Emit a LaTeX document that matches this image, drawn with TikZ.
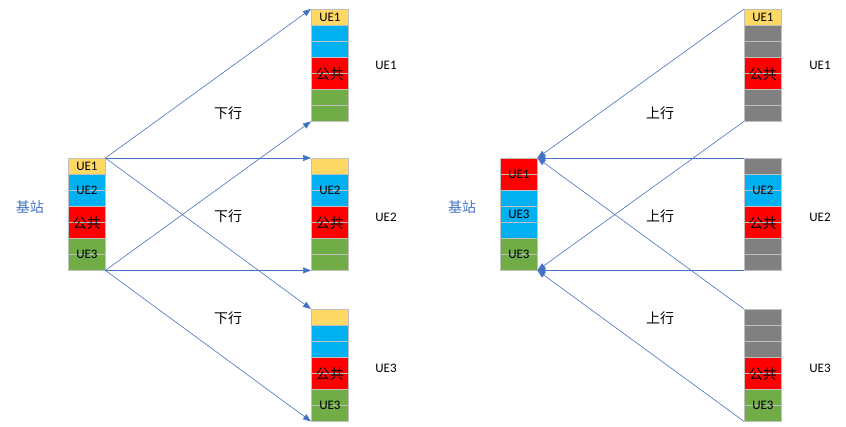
\documentclass[tikz,border=0pt]{standalone}
\usepackage{fontspec}
\setmainfont{Carlito}
\newfontfamily\cjk{Noto Sans CJK SC}
\usetikzlibrary{arrows.meta}
\definecolor{cy}{HTML}{FFD966}
\definecolor{cb}{HTML}{00B0F0}
\definecolor{cr}{HTML}{FF0000}
\definecolor{cg}{HTML}{70AD47}
\definecolor{ck}{HTML}{808080}
\definecolor{ln}{HTML}{4472C4}
\tikzset{
  cell/.style={draw=black!25,line width=0.8pt,minimum width=37pt,minimum height=16pt,inner sep=0pt,anchor=north west},
  frame/.style={minimum width=37pt,minimum height=112pt,inner sep=0pt,anchor=north west},
  lab/.style={font=\fontsize{13}{13}\selectfont},
  clab/.style={font=\cjk\fontsize{14}{14}\selectfont},
  conn/.style={draw=ln,line width=0.6pt,-{Triangle[length=8pt,width=6pt]}},
}
\newcommand{\mystack}[4]{% name, x, y, colours
  \node[frame] (#1) at (#2,#3) {};
  \foreach \c [count=\i from 0] in {#4} {
    \node[cell,fill=\c] (#1-\i) at (#2,#3+16*\i) {};
  }
}
\begin{document}
\begin{tikzpicture}[x=1pt,y=-1pt]
\useasboundingbox (0,0) rectangle (846,427);
% left
\mystack{bsL}{68}{158}{cy,cb,cb,cr,cr,cg,cg}
\node[lab] at (bsL-0) {UE1};
\node[lab] at (bsL-1.south) {UE2};
\node[clab] at (bsL-3.south) {公共};
\node[lab] at (bsL-5.south) {UE3};
\mystack{dA}{311}{9}{cy,cb,cb,cr,cr,cg,cg}
\node[lab] at (dA-0) {UE1};
\node[clab] at (dA-3.south) {公共};
\mystack{dB}{311}{158}{cy,cb,cb,cr,cr,cg,cg}
\node[lab] at (dB-1.south) {UE2};
\node[clab] at (dB-3.south) {公共};
\mystack{dC}{311}{309}{cy,cb,cb,cr,cr,cg,cg}
\node[clab] at (dC-3.south) {公共};
\node[lab] at (dC-5.south) {UE3};
\node[clab,text=ln] (bsLl) at (30,207) {基站};
\node[lab] (tA) at (386,65) {UE1};
\node[lab] (tB) at (386,217) {UE2};
\node[lab] (tC) at (386,368) {UE3};
\node[clab] (dl1) at (228,113) {下行};
\node[clab] (dl2) at (228,216) {下行};
\node[clab] (dl3) at (228,318) {下行};
\draw[conn] (bsL.north east) -- (dA.north west);
\draw[conn] (bsL.north east) -- (dB.north west);
\draw[conn] (bsL.north east) -- (dC.north west);
\draw[conn] (bsL.south east) -- (dA.south west);
\draw[conn] (bsL.south east) -- (dB.south west);
\draw[conn] (bsL.south east) -- (dC.south west);
% right
\mystack{bsR}{500}{158}{cr,cr,cb,cb,cb,cg,cg}
\node[lab] at (bsR-0.south) {UE1};
\node[lab] at (bsR-3) {UE3};
\node[lab] at (bsR-5.south) {UE3};
\mystack{uA}{744}{9}{cy,ck,ck,cr,cr,ck,ck}
\node[lab] at (uA-0) {UE1};
\node[clab] at (uA-3.south) {公共};
\mystack{uB}{744}{158}{ck,cb,cb,cr,cr,ck,ck}
\node[lab] at (uB-1.south) {UE2};
\node[clab] at (uB-3.south) {公共};
\mystack{uC}{744}{309}{ck,ck,ck,cr,cr,cg,cg}
\node[clab] at (uC-3.south) {公共};
\node[lab] at (uC-5.south) {UE3};
\node[clab,text=ln] (bsRl) at (462,207) {基站};
\node[lab] (rA) at (820,65) {UE1};
\node[lab] (rB) at (820,217) {UE2};
\node[lab] (rC) at (820,368) {UE3};
\node[clab] (ul1) at (660,113) {上行};
\node[clab] (ul2) at (660,216) {上行};
\node[clab] (ul3) at (660,318) {上行};
\draw[conn] (uA.north west) -- (bsR.north east);
\draw[conn] (uB.north west) -- (bsR.north east);
\draw[conn] (uC.north west) -- (bsR.north east);
\draw[conn] (uA.south west) -- (bsR.south east);
\draw[conn] (uB.south west) -- (bsR.south east);
\draw[conn] (uC.south west) -- (bsR.south east);
\end{tikzpicture}
\end{document}
